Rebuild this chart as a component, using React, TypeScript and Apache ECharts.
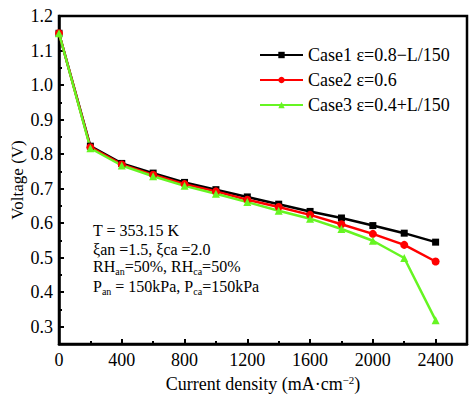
import React, { useEffect, useRef } from "react";
import * as echarts from "echarts";

const currents = [0, 200, 400, 600, 800, 1000, 1200, 1400, 1600, 1800, 2000, 2200, 2400];
const case1 = [1.15, 0.823, 0.773, 0.745, 0.718, 0.697, 0.676, 0.655, 0.634, 0.615, 0.593, 0.571, 0.545];
const case2 = [1.15, 0.82, 0.77, 0.74, 0.713, 0.692, 0.668, 0.647, 0.624, 0.597, 0.569, 0.537, 0.489];
const case3 = [1.15, 0.817, 0.767, 0.736, 0.708, 0.685, 0.661, 0.636, 0.613, 0.583, 0.549, 0.499, 0.319];
const seriesNames = ["Case1 ε=0.8−L/150", "Case2 ε=0.6", "Case3 ε=0.4+L/150"];
const yMajor = [0.3, 0.4, 0.5, 0.6, 0.7, 0.8, 0.9, 1.0, 1.1, 1.2];
const yMinor = [0.35, 0.45, 0.55, 0.65, 0.75, 0.85, 0.95, 1.05, 1.15];

const FONT = "Liberation Serif";

export default function App() {
  const ref = useRef<HTMLDivElement>(null);
  useEffect(() => {
    if (!ref.current) return;
    const chart = echarts.init(ref.current, null, { renderer: "svg" });
    const mk = (vals: number[]) => currents.map((c, i) => [c, vals[i]]);
    const lineStyle = (color: string) => ({ color, width: 2.5 });
    const annRich = {
      a: { fontFamily: FONT, fontSize: 16, fill: "#000", lineHeight: 20 },
      s: { fontFamily: FONT, fontSize: 10, fill: "#000", lineHeight: 20, verticalAlign: "bottom", padding: [7, 0, 0, 0] },
    };
    chart.setOption({
      animation: false,
      backgroundColor: "#fff",
      textStyle: { fontFamily: FONT },
      grid: {
        left: 59, top: 16, right: 7, bottom: 53,
        containLabel: false,
        outerBoundsMode: "none",
        show: true, borderColor: "#000", borderWidth: 2.5, backgroundColor: "transparent",
      },
      legend: {
        orient: "vertical",
        left: 254,
        top: 41,
        itemWidth: 43,
        itemHeight: 8,
        itemGap: 7,
        textStyle: { fontFamily: FONT, fontSize: 18, color: "#000" },
        data: seriesNames,
      },
      xAxis: {
        type: "value",
        min: 0,
        max: 2600,
        interval: 400,
        name: "{a|Current density (mA·cm}{s|−2}{a|)}",
        nameLocation: "middle",
        nameGap: 30,
        nameTextStyle: {
          rich: {
            a: { fontFamily: FONT, fontSize: 18, color: "#000", lineHeight: 20 },
            s: { fontFamily: FONT, fontSize: 11, color: "#000", verticalAlign: "top", lineHeight: 20, padding: [0, 0, 7, 0] },
          },
        },
        axisLine: { show: true, onZero: false, lineStyle: { color: "#000", width: 2.5 } },
        axisTick: { show: true, inside: true, length: 5, lineStyle: { color: "#000", width: 2 } },
        minorTick: { show: true, splitNumber: 2, length: 3, lineStyle: { color: "#000", width: 2 } },
        axisLabel: {
          fontFamily: FONT, fontSize: 18, color: "#000", margin: 7,
          formatter: (v: number) => (v > 2400 ? "" : String(v)),
        },
        splitLine: { show: false },
      },
      yAxis: [
        {
          type: "value",
          min: 0.25,
          max: 1.2,
          name: "Voltage (V)",
          nameLocation: "middle",
          nameGap: 33,
          nameMoveOverlap: false,
          nameRotate: 90,
          nameTextStyle: { fontFamily: FONT, fontSize: 17, color: "#000" },
          axisLine: { show: true, onZero: false, lineStyle: { color: "#000", width: 2.5 } },
          axisTick: { show: true, inside: true, length: 5, customValues: yMajor, lineStyle: { color: "#000", width: 2 } },
          axisLabel: {
            fontFamily: FONT, fontSize: 18, color: "#000", margin: 6,
            customValues: yMajor,
            formatter: (v: number) => v.toFixed(1),
          },
          splitLine: { show: false },
        },
        {
          type: "value",
          min: 0.25,
          max: 1.2,
          position: "left",
          axisLine: { show: false },
          axisTick: { show: true, inside: true, length: 3, customValues: yMinor, lineStyle: { color: "#000", width: 2 } },
          axisLabel: { show: false },
          splitLine: { show: false },
        },
      ],
      graphic: [
        {
          type: "text", left: 93, top: 222,
          style: { text: "T = 353.15 K", fontFamily: FONT, fontSize: 16, fill: "#000" },
        },
        {
          type: "text", left: 93, top: 241,
          style: { text: "ξan =1.5, ξca =2.0", fontFamily: FONT, fontSize: 16, fill: "#000" },
        },
        {
          type: "text", left: 93, top: 258,
          style: { text: "{a|RH}{s|an}{a|=50%, RH}{s|ca}{a|=50%}", rich: annRich },
        },
        {
          type: "text", left: 93, top: 278,
          style: { text: "{a|P}{s|an}{a| = 150kPa, P}{s|ca}{a|=150kPa}", rich: annRich },
        },
      ],
      series: [
        {
          name: seriesNames[0], type: "line", data: mk(case1),
          symbol: "rect", symbolSize: 7, color: "#000", lineStyle: lineStyle("#000"),
        },
        {
          name: seriesNames[1], type: "line", data: mk(case2),
          symbol: "circle", symbolSize: 8, color: "#ff0000", lineStyle: lineStyle("#ff0000"),
        },
        {
          name: seriesNames[2], type: "line", data: mk(case3),
          symbol: "triangle", symbolSize: 8, color: "#66f522", lineStyle: lineStyle("#66f522"),
        },
      ],
    });
    return () => chart.dispose();
  }, []);
  return <div ref={ref} style={{ position: "fixed", left: 0, top: 0, width: 474, height: 397 }} />;
}
